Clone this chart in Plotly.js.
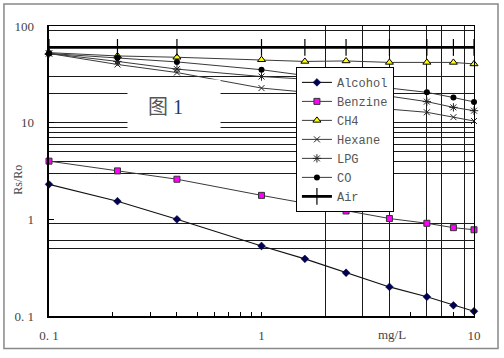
<!DOCTYPE html>
<html>
<head>
<meta charset="utf-8">
<script src="https://cdn.plot.ly/plotly-3.0.1.min.js"></script>
<style>
  html, body { margin: 0; padding: 0; background: #fff; }
  #chart { width: 504px; height: 358px; }
</style>
</head>
<body>
<div id="chart"></div>
<script>
// ---- data ----
const conc = [0.1, 0.21, 0.4, 1, 1.6, 2.5, 4, 6, 8, 10];           // mg/L
const alcohol = [2.3, 1.54, 1.0, 0.53, 0.39, 0.28, 0.2, 0.158, 0.129, 0.112];
const benzine = [4.0, 3.17, 2.6, 1.77, 1.46, 1.22, 1.02, 0.91, 0.82, 0.78];
const ch4     = [53, 49, 47.5, 44.8, 43, 43.5, 42, 42, 42, 40.5];
const hexane  = [52, 40, 33, 22.8, 20.7, 17.5, 13.8, 12.8, 11.4, 10.4];
const lpg     = [52, 43, 35.8, 30, 28.2, 23.3, 18.8, 16.5, 14.4, 13.3];
const co      = [52, 47, 42.5, 35.3, 31, 27, 22.8, 20.6, 18.2, 16.4];
const air     = [60, 60, 60, 60, 60, 60, 60, 60, 60, 60];

const seriesNames = ['Alcohol', 'Benzine', 'CH4', 'Hexane', 'LPG', 'CO', 'Air'];

// axis ticks / grid
const xTickVals = [0.1, 1, 10];
const xTickText = ['0. 1', '1', '10'];
const xMinorVals = [0.2, 0.3, 0.4, 0.5, 0.6, 0.7, 0.8, 0.9, 5, 8];
const xGridVals = [2, 3, 4, 6, 7, 9, 10];
const yTickVals = [0.1, 1, 10, 100];
const yTickText = ['0. 1', '1', '10', '100'];
const yGridVals = [0.5, 0.6, 0.9, 3, 4, 5, 6, 7, 8, 9, 10, 20, 30, 90, 100];

const lineCol = '#3a3a3a';
function tr(name, y, marker, extra) {
  return Object.assign({
    type: 'scatter', mode: 'lines+markers', name: name, x: conc, y: y,
    line: { color: lineCol, width: 1 }, marker: marker, cliponaxis: false
  }, extra || {});
}

const data = [
  tr(seriesNames[0], alcohol, { symbol: 'diamond', size: 6, color: '#000055', line: { color: '#000033', width: 0.5 } }, { line: { color: '#111', width: 1.1 } }),
  tr(seriesNames[1], benzine, { symbol: 'square', size: 6, color: '#ff00ff', line: { color: '#333', width: 1 } }),
  tr(seriesNames[2], ch4, { symbol: 'triangle-up', size: 7, color: '#ffff00', line: { color: '#000', width: 1 } }),
  tr(seriesNames[3], hexane, { symbol: 'x-thin-open', size: 6, color: '#222', line: { color: '#222', width: 1 } }),
  tr(seriesNames[4], lpg, { symbol: 'asterisk-open', size: 7, color: '#222', line: { color: '#222', width: 1 } }),
  tr(seriesNames[5], co, { symbol: 'circle', size: 6, color: '#000' }),
  { type: 'scatter', mode: 'lines+markers', name: seriesNames[6], x: conc, y: air,
    xaxis: 'x2', yaxis: 'y2', cliponaxis: false,
    line: { color: '#000', width: 2.8 },
    marker: { symbol: 'line-ns-open', size: 12, color: '#000', line: { color: '#000', width: 1.2 } } }
];

const tickFont = { family: 'Liberation Serif, DejaVu Serif, serif', size: 13, color: '#444' };

const layout = {
  width: 504, height: 358,
  margin: { l: 49, r: 30, t: 26, b: 42 },
  paper_bgcolor: '#fff', plot_bgcolor: '#fff',
  showlegend: true,
  xaxis: {
    type: 'log', range: [-1, 1], showgrid: false, zeroline: false,
    tickmode: 'array', tickvals: xTickVals, ticktext: xTickText,
    ticks: 'inside', ticklen: 4, tickwidth: 1, tickcolor: '#000',
    minor: { tickmode: 'array', tickvals: xMinorVals, ticks: 'inside', ticklen: 4, tickcolor: '#000', showgrid: false },
    showline: true, linecolor: '#000', linewidth: 2,
    tickfont: tickFont, ticklabelstandoff: 6
  },
  yaxis: {
    type: 'log', range: [-1, 2], showgrid: false, zeroline: false,
    tickmode: 'array', tickvals: yTickVals, ticktext: yTickText,
    ticks: 'inside', ticklen: 5, tickwidth: 1, tickcolor: '#000',
    showline: true, linecolor: '#000', linewidth: 2.5,
    tickfont: tickFont, ticklabelstandoff: 10
  },
  xaxis2: {
    type: 'log', range: [-1, 1], overlaying: 'x', side: 'top',
    tickmode: 'array', tickvals: xGridVals, showticklabels: false, ticks: '',
    showgrid: true, gridcolor: '#1a1a1a', gridwidth: 1, zeroline: false,
    showline: true, linecolor: '#000', linewidth: 1
  },
  yaxis2: {
    type: 'log', range: [-1, 2], overlaying: 'y', side: 'right',
    tickmode: 'array', tickvals: yGridVals, showticklabels: false, ticks: '',
    showgrid: true, gridcolor: '#1a1a1a', gridwidth: 1, zeroline: false,
    showline: true, linecolor: '#000', linewidth: 1
  },
  legend: {
    x: 0.581, y: 0.859, xanchor: 'left', yanchor: 'top',
    bgcolor: '#fff', bordercolor: '#000', borderwidth: 1,
    font: { family: 'Liberation Mono, DejaVu Sans Mono, monospace', size: 12, color: '#555' },
    itemwidth: 30, tracegroupgap: 0
  },
  annotations: [
    { xref: 'paper', yref: 'paper', x: 0.294, y: 0.728, xanchor: 'center', yanchor: 'middle',
      text: ' ', showarrow: false, width: 92, height: 50, bgcolor: '#fff', borderpad: 0 },
    { xref: 'paper', yref: 'paper', x: 0.275, y: 0.721, xanchor: 'center', yanchor: 'middle',
      text: '图 <span style="color:#1f3a70">1</span>', showarrow: false,
      font: { family: 'Liberation Serif, Noto Sans CJK SC, serif', size: 20, color: '#555' } },
    { xref: 'paper', yref: 'paper', x: -0.073, y: 0.47, xanchor: 'center', yanchor: 'middle',
      text: 'Rs/Ro', textangle: -90, showarrow: false,
      font: { family: 'Liberation Serif, DejaVu Serif, serif', size: 12, color: '#444' } },
    { xref: 'paper', yref: 'paper', x: 0.807, y: -0.064, xanchor: 'center', yanchor: 'middle',
      text: 'mg/L', showarrow: false,
      font: { family: 'Liberation Serif, DejaVu Serif, serif', size: 13, color: '#444' } }
  ],
  shapes: [
    { type: 'rect', xref: 'paper', yref: 'paper', x0: -0.106, x1: 1.0565, y0: -0.112, y1: 1.0757,
      line: { color: '#888', width: 1.5 }, fillcolor: 'rgba(0,0,0,0)', layer: 'above' }
  ]
};

Plotly.newPlot('chart', data, layout, { displayModeBar: false, staticPlot: true });
</script>
</body>
</html>
